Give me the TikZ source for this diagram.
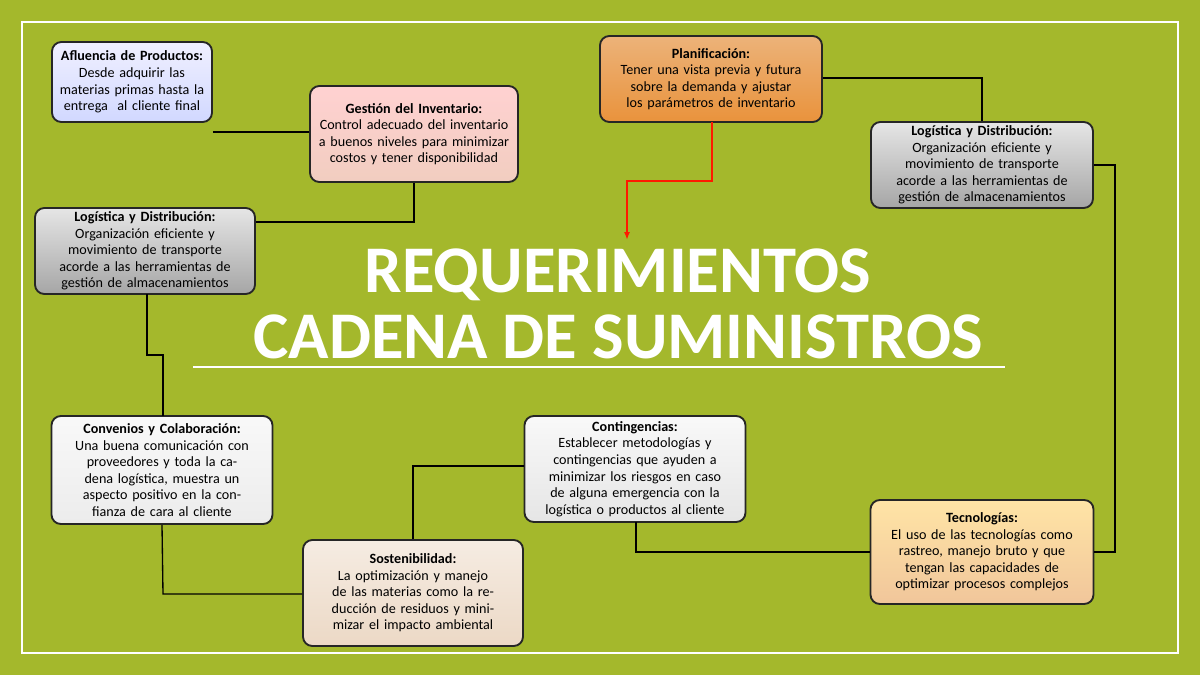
\documentclass[tikz,border=0pt]{standalone}
\usepackage{fontspec}
\setmainfont{Carlito}
\usetikzlibrary{arrows.meta}
\newcommand\nohy{\hyphenpenalty=10000\relax\exhyphenpenalty=10000\relax}
\begin{document}
\begin{tikzpicture}[x=0.75pt,y=-0.75pt,
  box/.style={draw=black!85,line width=1.4pt,rounded corners=7pt,align=center,
    font=\fontsize{10.6}{12.4}\selectfont,inner sep=2pt},
  conn/.style={draw=black,line width=1pt}]
\useasboundingbox (0,0) rectangle (1200,675);
\fill[fill={rgb,255:red,164;green,184;blue,44}] (0,0) rectangle (1200,675);
\draw[white,line width=1.2pt] (22,22) rectangle (1178,653);
% boxes
\newcommand\mybox[7]{\node[box,minimum width=#3*0.75pt,minimum height=#4*0.75pt,
  top color=#6,bottom color=#7,text width=(#3-12)*0.75pt] (#1) at #2 {\nohy #5};}
\mybox{afl}{(132,82)}{160}{80}{\textbf{Afluencia de Productos:}\\Desde adquirir las materias primas hasta la entrega \ al cliente final}{blue!6}{cyan!15!blue!18}
\mybox{ges}{(414,134)}{208}{96}{\textbf{Gestión del Inventario:}\\Control adecuado del inventario a buenos niveles para minimizar costos y tener disponibilidad}{red!18}{red!30!brown!30}
\mybox{logl}{(145,251)}{220}{86}{\textbf{Logística y Distribución:}\\Organización eficiente y movimiento de transporte acorde a las herramientas de gestión de almacenamientos}{gray!20}{gray!70}
\mybox{pla}{(711,79)}{222}{86}{\textbf{Planificación:}\\Tener una vista previa y futura sobre la demanda y ajustar los parámetros de inventario}{orange!50!brown!60}{orange!60!brown!85}
\mybox{logr}{(982,165)}{222}{86}{\textbf{Logística y Distribución:}\\Organización eficiente y movimiento de transporte acorde a las herramientas de gestión de almacenamientos}{gray!20}{gray!70}
\mybox{con}{(162,470)}{221}{108}{\textbf{Convenios y Colaboración:}\\Una buena comunicación con proveedores y toda la cadena logística, muestra un aspecto positivo en la confianza de cara al cliente}{white!95!gray}{gray!15}
\mybox{cont}{(635,469)}{221}{106}{\textbf{Contingencias:}\\Establecer metodologías y contingencias que ayuden a minimizar los riesgos en caso de alguna emergencia con la logística o productos al cliente}{white!95!gray}{gray!20}
\mybox{sos}{(413,593)}{220}{106}{\textbf{Sostenibilidad:}\\La optimización y manejo de las materias como la reducción de residuos y minimizar el impacto ambiental}{brown!15!white}{brown!30!white}
\mybox{tec}{(982,552)}{223}{104}{\textbf{Tecnologías:}\\El uso de las tecnologías como rastreo, manejo bruto y que tengan las capacidades de optimizar procesos complejos}{yellow!40!orange!35}{orange!50!brown!45}
% title
\node[text=white,font=\fontsize{50}{56}\selectfont\bfseries] (t1) at (618,275) {REQUERIMIENTOS};
\node[text=white,font=\fontsize{50}{56}\selectfont\bfseries] (t2) at (618,337) {CADENA DE SUMINISTROS};
\coordinate (ul) at (193,367); \coordinate (ur) at (1005,367);
\draw[white,line width=0.8pt] (ul) -- (ur);
% connectors
\draw[conn] (afl.east |- 0,132) -- (ges.west |- 0,132);
\draw[conn] (ges.south) -- (414,222) -- (logl.east |- 0,222);
\draw[conn] (147,294) -- (147,355) -- (163,355) -- (163,416);
\draw[conn] (con.south) -- (163,594) -- (sos.west |- 0,594);
\draw[conn] (sos.north) -- (413,466) -- (cont.west |- 0,466);
\draw[conn] (636,522) -- (636,552) -- (tec.west);
\draw[conn] (tec.east) -- (1115,552) -- (1115,165) -- (logr.east);
\draw[conn] (pla.east |- 0,78) -- (982,78) -- (logr.north);
\coordinate (ra) at (627,240);
\draw[red!80!orange,line width=1.2pt,-{Latex[length=6pt]}] (712,122) -- (712,181) -- (627,181) -- (ra);
\end{tikzpicture}
\end{document}
